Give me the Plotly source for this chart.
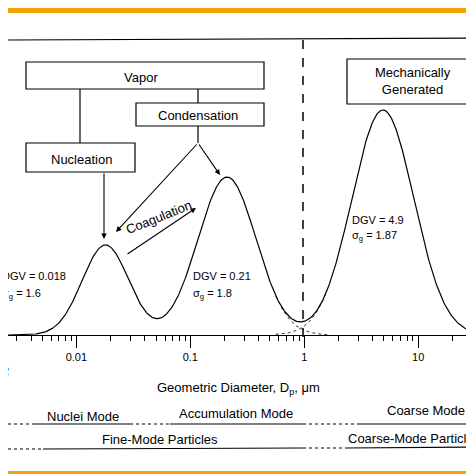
import numpy as np
import plotly.graph_objects as go

# Mode parameters
mode_names = ["Nuclei", "Accumulation", "Coarse"]
dgv = [0.018, 0.21, 4.9]
sigma_g = [1.6, 1.8, 1.87]
peak_height = [90, 158, 225]  # relative height (px-scale units)
tick_vals = [0.01, 0.1, 1, 10]
tick_text = ["0.01", "0.1", "1", "10"]

W = H = 474
def px(x): return x / W
def py(y): return 1 - y / H

logd = np.linspace(-2.6, 1.56, 600)
d = 10 ** logd
def mode(i, ld):
    return peak_height[i] * np.exp(-(ld - np.log10(dgv[i])) ** 2 / (2 * np.log10(sigma_g[i]) ** 2))
total = sum(mode(i, logd) for i in range(3))

fig = go.Figure()
fig.add_trace(go.Scatter(x=d, y=total, mode="lines", line=dict(color="black", width=1.2), hoverinfo="skip"))
ld2 = np.linspace(-0.25, 0.2, 80)
for i in (1, 2):
    fig.add_trace(go.Scatter(x=10 ** ld2, y=mode(i, ld2), mode="lines",
                             line=dict(color="black", width=0.8, dash="dot"), hoverinfo="skip"))

shapes = []
def line(x0, y0, x1, y1, dash=None, w=1.2):
    shapes.append(dict(type="line", xref="paper", yref="paper", x0=px(x0), y0=py(y0), x1=px(x1), y1=py(y1),
                       line=dict(color="black", width=w, dash=dash) if dash else dict(color="black", width=w)))
def box(x0, y0, x1, y1):
    shapes.append(dict(type="rect", xref="paper", yref="paper", x0=px(x0), y0=py(y0), x1=px(x1), y1=py(y1),
                       line=dict(color="black", width=1.2), fillcolor="white"))

# orange bars
shapes.append(dict(type="rect", xref="paper", yref="paper", x0=0, x1=1, y0=py(5), y1=1, fillcolor="#F5A300", line_width=0))
shapes.append(dict(type="rect", xref="paper", yref="paper", x0=0, x1=1, y0=0, y1=py(463), fillcolor="#FFF8D0", line_width=0))
shapes.append(dict(type="rect", xref="paper", yref="paper", x0=0, x1=1, y0=py(470), y1=py(463), fillcolor="#F5A300", line_width=0))

line(0, 32, 474, 30)
line(295, 32, 295, 330, dash="dash", w=1.5)
box(18, 54, 256, 81)
box(128, 95, 256, 118)
box(18, 135, 127, 164)
box(339, 51, 471, 96)
line(72, 81, 72, 135)
line(190, 81, 190, 95)
line(190, 118, 190, 135)

# bottom mode lines
line(0, 416, 27, 416, dash="dot"); line(27, 416, 122, 416)
line(122, 416, 162, 416, dash="dot"); line(162, 416, 295, 416)
line(295, 416, 350, 416, dash="dot"); line(350, 416, 474, 416)
line(0, 441, 35, 441, dash="dot"); line(35, 441, 295, 440)
line(295, 440, 338, 440, dash="dot"); line(338, 440, 474, 439)

ann = []
def text(x, y, s, size=12, anchor="center", angle=0):
    ann.append(dict(xref="paper", yref="paper", x=px(x), y=py(y), text=s, showarrow=False, xanchor=anchor,
                    yanchor="middle", textangle=angle, font=dict(size=size, color="black", family="Liberation Sans")))
def arrow(x0, y0, x1, y1):
    ann.append(dict(xref="paper", yref="paper", axref="pixel", ayref="pixel", x=px(x1), y=py(y1),
                    ax=x0 - x1, ay=y0 - y1, text="", showarrow=True, arrowhead=2, arrowsize=1, arrowwidth=1.1,
                    arrowcolor="black"))

text(133, 69, "Vapor", 13)
text(190, 107, "Condensation", 13)
text(73, 151, "Nucleation", 13)
text(405, 73, "Mechanically<br>Generated", 13)
arrow(96, 164, 96, 231)
arrow(190, 135, 108, 224)
arrow(190, 135, 212, 167)
arrow(118, 247, 188, 200)
text(150, 209, "Coagulation", 13, angle=-22)
text(-8, 268, "DGV = 0.018", 11, "left")
text(-8, 286, "σ<sub>g</sub> = 1.6", 11, "left")
text(183, 268, "DGV = 0.21", 11, "left")
text(183, 286, "σ<sub>g</sub> = 1.8", 11, "left")
text(342, 212, "DGV = 4.9", 11, "left")
text(342, 228, "σ<sub>g</sub> = 1.87", 11, "left")
text(3, 363, "2", 11, "right")
text(230, 380, "Geometric Diameter, D<sub>p</sub>, μm", 13)
text(75, 408, "Nuclei Mode", 13)
text(228, 405, "Accumulation Mode", 13)
text(418, 402, "Coarse Mode", 13)
text(152, 431, "Fine-Mode Particles", 13)
text(338, 430, "Coarse-Mode Particles", 13, "left")

fig.update_layout(
    width=W, height=H, margin=dict(l=0, r=0, t=0, b=0), paper_bgcolor="white", plot_bgcolor="rgba(0,0,0,0)",
    showlegend=False, shapes=shapes, annotations=ann,
    xaxis=dict(type="log", range=[-2.6, 1.56], tickvals=tick_vals, ticktext=tick_text, ticks="outside",
               ticklen=12, tickwidth=1.2, tickcolor="black", showline=True, linecolor="black", linewidth=1.2,
               showgrid=False, zeroline=False, tickfont=dict(size=11, color="black", family="Liberation Sans"),
               minor=dict(tickvals=[k * 10.0 ** e for e in range(-3, 2) for k in range(2, 10)], ticks="outside",
                          ticklen=5, tickcolor="black", showgrid=False)),
    yaxis=dict(domain=[1 - 327 / H, 1], range=[0, 327], visible=False),
)
fig.write_html("out.html")
